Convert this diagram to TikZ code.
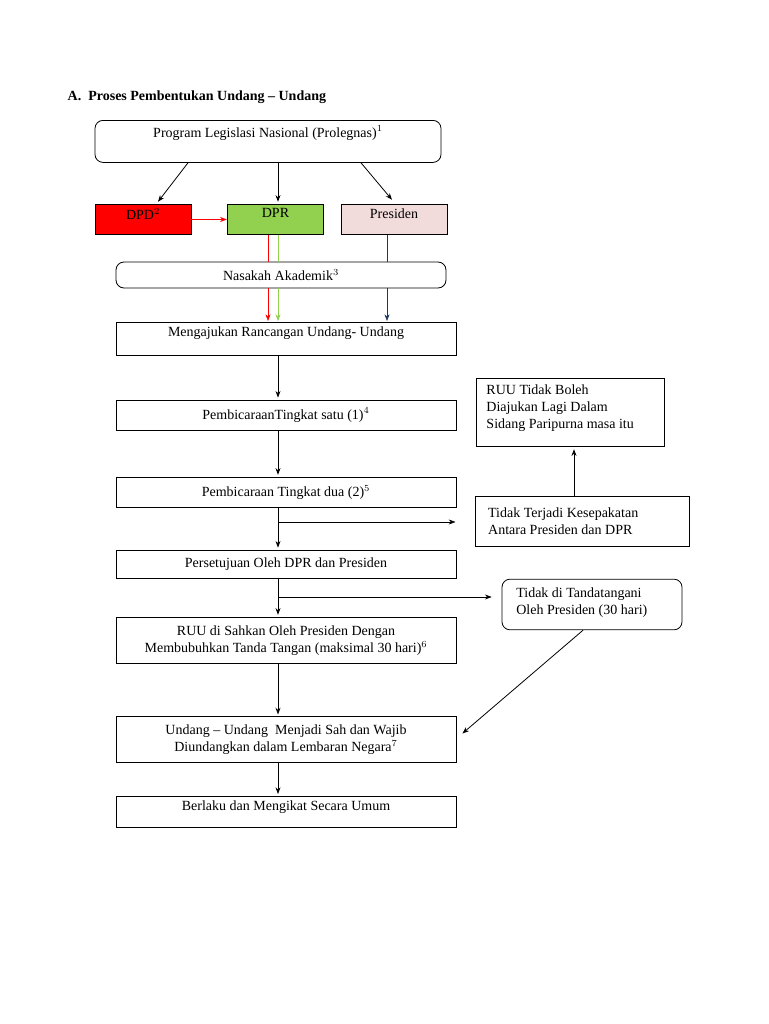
\documentclass[tikz,border=0pt]{standalone}
\usepackage{fontspec}
\setmainfont{Liberation Serif}
\usetikzlibrary{arrows.meta,calc,positioning}
\definecolor{dprgreen}{RGB}{146,208,80}
\definecolor{prespink}{RGB}{242,220,219}
\definecolor{navy}{RGB}{31,56,100}
\begin{document}
\begin{tikzpicture}[x=0.75pt,y=-0.75pt]
  \tikzstyle{txt}=[font=\fontsize{10.5}{13}\selectfont]
  \tikzstyle{box}=[draw=black, semithick, inner sep=2pt, txt]
  \tikzstyle{rbox}=[box, rounded corners=6pt]
  \tikzstyle{dep}=[draw=black, semithick, -{Stealth[length=5pt]}]
  \tikzstyle{tip}=[-{Stealth[length=5pt]}]
  \def\mw{255pt}

  \useasboundingbox (0,0) rectangle (768,1024);
  \node [txt, font=\fontsize{10.5}{13}\selectfont\bfseries, anchor=west] (title) at (63,97) {A.\ \ Proses Pembentukan Undang -- Undang};

  \node [rbox, minimum width=259.5pt, minimum height=31.5pt, anchor=north] (prol) at (268,120) {};
  \node [txt] at (268,133) {Program Legislasi Nasional (Prolegnas)$^{1}$};
  \node [box, fill=red, minimum width=72pt, minimum height=23pt] (dpd) at (143,219.5) {};
  \node [txt, anchor=north] at (dpd.north) {DPD$^{2}$};
  \node [box, fill=dprgreen, minimum width=72.5pt, minimum height=23pt] (dpr) at (275.5,219.5) {};
  \node [txt, anchor=north] at (dpr.north) {DPR};
  \node [box, fill=prespink, minimum width=79.5pt, minimum height=23pt] (pres) at (394,219.5) {};
  \node [txt, anchor=north] at (pres.north) {Presiden};
  \node [rbox, minimum width=247.5pt, minimum height=19.5pt] (nas) at (281,275) {Nasakah Akademik$^{3}$};

  \node [box, minimum width=\mw, minimum height=24.5pt, anchor=north] (ruu) at (286,322) {};
  \node [txt, anchor=north] at (ruu.north) {Mengajukan Rancangan Undang- Undang};
  \node [box, minimum width=\mw, minimum height=22.5pt] (tk1) at (286,415) {PembicaraanTingkat satu (1)$^{4}$};
  \node [box, minimum width=\mw, minimum height=23pt] (tk2) at (286,492.5) {Pembicaraan Tingkat dua (2)$^{5}$};
  \node [box, minimum width=\mw, minimum height=21pt] (setuju) at (286,564) {Persetujuan Oleh DPR dan Presiden};
  \node [box, minimum width=\mw, minimum height=35pt, align=center] (sah) at (286,640.5)
    {RUU di Sahkan Oleh Presiden Dengan\\Membubuhkan Tanda Tangan (maksimal 30 hari)$^{6}$};
  \node [box, minimum width=\mw, minimum height=34pt, align=center] (wajib) at (286,739.5)
    {Undang -- Undang\ \ Menjadi Sah dan Wajib\\Diundangkan dalam Lembaran Negara$^{7}$};
  \node [box, minimum width=\mw, minimum height=23pt, anchor=north] (umum) at (286,796) {};
  \node [txt, anchor=north] at (umum.north) {Berlaku dan Mengikat Secara Umum};

  \node [box, minimum width=141.5pt, minimum height=51.5pt] (boleh) at (570.5,412.5) {};
  \node [txt, align=left, anchor=north west] at ($(boleh.north west)+(6,2)$)
    {RUU Tidak Boleh\\Diajukan Lagi Dalam\\Sidang Paripurna masa itu};
  \node [box, minimum width=160pt, minimum height=38pt] (sepakat) at (582.5,521.5) {};
  \node [txt, align=left, anchor=west] at ($(sepakat.west)+(8,0)$)
    {Tidak Terjadi Kesepakatan\\Antara Presiden dan DPR};
  \node [rbox, minimum width=135pt, minimum height=38pt] (ttd) at (592,604.5) {};
  \node [txt, align=left, anchor=west] at ($(ttd.west)+(10,-2)$)
    {Tidak di Tandatangani\\Oleh Presiden (30 hari)};

  % prolegnas ke lembaga
  \draw [dep] ($(prol.south)+(-80,0)$) -- ($(dpd.north)+(15,-2)$);
  \draw [dep] ($(prol.south)+(10,0)$) -- ($(dpr.north)+(2.5,-2)$);
  \draw [dep] ($(prol.south)+(93,0)$) -- ($(pres.north)+(-2,-4)$);
  \draw [red, tip] (dpd) -- (dpr);
  % lewat naskah akademik
  \draw [red] ($(dpr.south)+(-7.5,0)$) -- ($(nas.north)+(-13,0)$);
  \draw [red, tip] ($(nas.south)+(-13,0)$) -- ($(ruu.north)+(-18,-1)$);
  \draw [dprgreen] ($(dpr.south)+(2.5,0)$) -- ($(nas.north)+(-3,0)$);
  \draw [dprgreen, tip] ($(nas.south)+(-3,0)$) -- ($(ruu.north)+(-8,-1)$);
  \draw [navy] ($(pres.south)+(-7,0)$) -- ($(nas.north)+(106,0)$);
  \draw [navy, tip] ($(nas.south)+(106,0)$) -- ($(ruu.north)+(101,-1)$);

  % alur utama
  \draw [dep] ($(ruu.south)+(-8,0)$) -- ($(tk1.north)+(-8,-2)$);
  \draw [dep] ($(tk1.south)+(-8,0)$) -- ($(tk2.north)+(-8,-2)$);
  \draw [dep] ($(tk2.south)+(-8,0)$) -- ($(setuju.north)+(-8,-2)$);
  \draw [dep] ($(setuju.south)+(-8,0)$) -- ($(sah.north)+(-8,-2)$);
  \draw [dep] ($(sah.south)+(-8,0)$) -- ($(wajib.north)+(-8,-2)$);
  \draw [dep] ($(wajib.south)+(-8,0)$) -- ($(umum.north)+(-8,-2)$);

  % cabang
  \coordinate (c1) at (278,522);
  \coordinate (c2) at (278,597);
  \draw [thin, tip] (c1) -- ($(sepakat.west)+(-20,0.5)$);
  \draw [thin, tip] (c2) -- ($(ttd.west)+(-10,-7.5)$);
  \draw [dep] ($(sepakat.north)+(-8.5,0)$) -- ($(boleh.south)+(3.5,2)$);
  \draw [dep] ($(ttd.south)+(-9,0)$) -- ($(wajib.east)+(6,-6)$);
\end{tikzpicture}
\end{document}
